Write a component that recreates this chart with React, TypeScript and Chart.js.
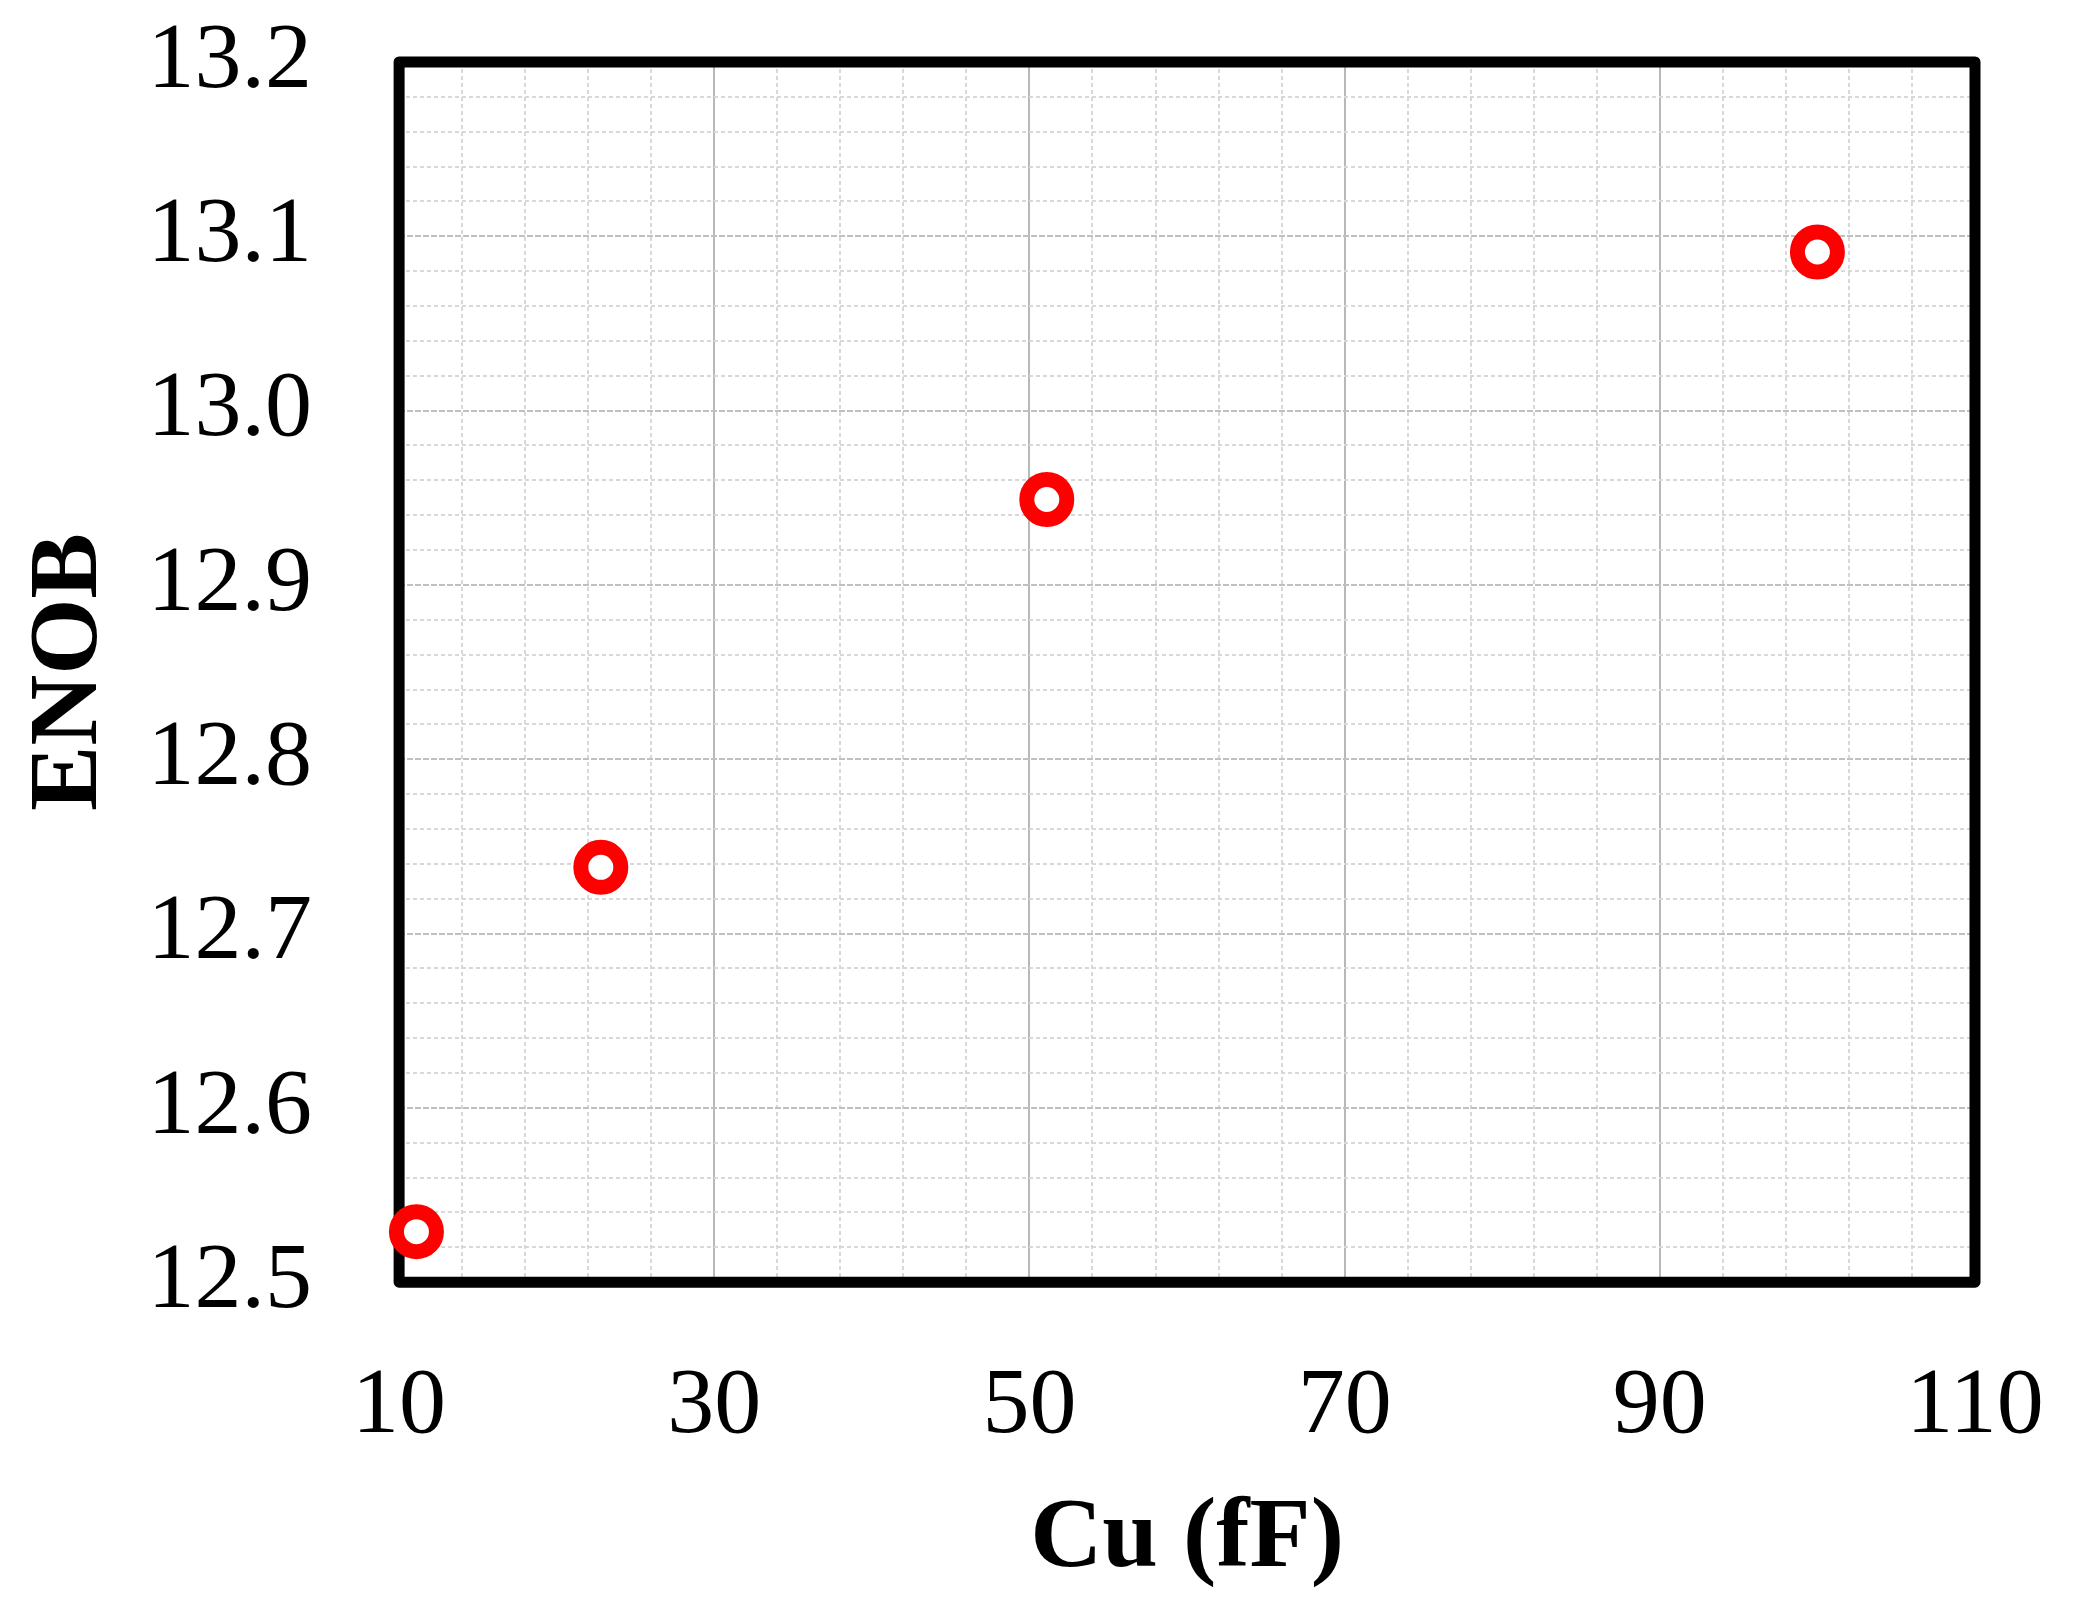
import React, { useEffect, useRef } from "react";
import { Chart, registerables } from "chart.js";

Chart.register(...registerables);

const cuValues = [11.1, 22.8, 51.1, 100];
const enobValues = [12.529, 12.738, 12.949, 13.091];

const xMajorTicks = [10, 30, 50, 70, 90, 110];
const yMajorTicks = [12.5, 12.6, 12.7, 12.8, 12.9, 13.0, 13.1, 13.2];
const xMinorPerMajor = 5;
const yMinorPerMajor = 5;

const xTitle = "Cu (fF)";
const yTitle = "ENOB";

function buildTicks(majors: number[], per: number) {
  const out: { value: number; major: boolean }[] = [];
  for (let i = 0; i < majors.length; i++) {
    out.push({ value: majors[i], major: true });
    if (i < majors.length - 1) {
      const step = (majors[i + 1] - majors[i]) / per;
      for (let k = 1; k < per; k++) {
        out.push({ value: majors[i] + step * k, major: false });
      }
    }
  }
  return out;
}

const frame = {
  id: "frame",
  beforeDatasetsDraw(chart: any) {
    const { ctx, chartArea } = chart;
    ctx.save();
    ctx.strokeStyle = "#000";
    ctx.lineWidth = 11;
    ctx.lineJoin = "round";
    ctx.strokeRect(
      chartArea.left,
      chartArea.top,
      chartArea.right - chartArea.left,
      chartArea.bottom - chartArea.top
    );
    ctx.restore();
  },
};

export default function App() {
  const ref = useRef<HTMLCanvasElement>(null);

  useEffect(() => {
    document.body.style.margin = "0";
    const xt = buildTicks(xMajorTicks, xMinorPerMajor);
    const yt = buildTicks(yMajorTicks, yMinorPerMajor);
    const serif = "'Liberation Serif', 'Times New Roman', serif";
    const chart = new Chart(ref.current as HTMLCanvasElement, {
      type: "scatter",
      data: {
        datasets: [
          {
            data: cuValues.map((x, i) => ({ x, y: enobValues[i] })),
            pointStyle: "circle",
            pointRadius: 20,
            pointHoverRadius: 20,
            pointBorderWidth: 15,
            borderColor: "#ff0000",
            backgroundColor: "#ffffff",
            showLine: false,
            clip: false,
          } as any,
        ],
      },
      plugins: [frame],
      options: {
        animation: false,
        responsive: false,
        devicePixelRatio: 1,
        layout: { padding: { left: 12, right: 98, top: 62, bottom: 20 } },
        plugins: {
          legend: { display: false },
          tooltip: { enabled: false },
        },
        scales: {
          x: {
            type: "linear",
            min: 10,
            max: 110,
            afterBuildTicks: (scale: any) => {
              scale.ticks = xt.map((t) => ({ value: t.value, major: t.major }));
            },
            ticks: {
              autoSkip: false,
              maxRotation: 0,
              padding: 5,
              color: "#000",
              font: { family: serif, size: 94 },
              callback: (v: any, i: number) => (xt[i] && xt[i].major ? String(v) : ""),
            },
            grid: {
              drawTicks: true,
              tickLength: 64,
              tickColor: "rgba(0,0,0,0)",
              lineWidth: 2,
              color: (c: any) => (xt[c.index] && xt[c.index].major ? "#b8b8b8" : "#d8d8d8"),
            },
            border: {
              display: false,
              dash: (c: any) => (xt[c.index] && xt[c.index].major ? [] : [4, 3]),
            },
            title: {
              display: true,
              text: xTitle,
              color: "#000",
              font: { family: serif, size: 100, weight: "bold" },
              padding: { top: 11, bottom: 0 },
            },
          },
          y: {
            type: "linear",
            min: 12.5,
            max: 13.2,
            afterBuildTicks: (scale: any) => {
              scale.ticks = yt.map((t) => ({ value: t.value, major: t.major }));
            },
            ticks: {
              autoSkip: false,
              padding: 5,
              color: "#000",
              font: { family: serif, size: 94 },
              callback: (v: any, i: number) => (yt[i] && yt[i].major ? Number(v).toFixed(1) : ""),
            },
            grid: {
              drawTicks: true,
              tickLength: 82,
              tickColor: "rgba(0,0,0,0)",
              lineWidth: 2,
              color: (c: any) => (yt[c.index] && yt[c.index].major ? "#c0c0c0" : "#d8d8d8"),
            },
            border: {
              display: false,
              dash: (c: any) => (yt[c.index] && yt[c.index].major ? [6, 2] : [4, 3]),
            },
            title: {
              display: true,
              text: yTitle,
              color: "#000",
              font: { family: serif, size: 98, weight: "bold" },
              padding: { top: 0, bottom: 13 },
            },
          },
        },
      } as any,
    });
    return () => chart.destroy();
  }, []);

  return (
    <div style={{ width: 2073, height: 1620, background: "#fff" }}>
      <canvas ref={ref} width={2073} height={1620} />
    </div>
  );
}
